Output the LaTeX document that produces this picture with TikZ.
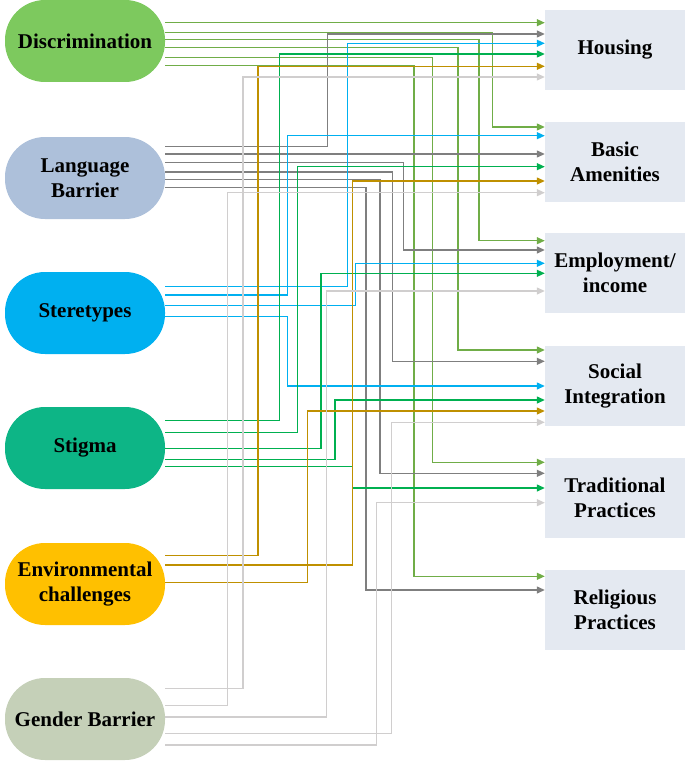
\documentclass[tikz,border=0pt]{standalone}
\usepackage{fontspec}
\setmainfont{Liberation Serif}
\usetikzlibrary{arrows.meta}
\definecolor{discC}{HTML}{70AD47}
\definecolor{langC}{HTML}{7F7F7F}
\definecolor{sterC}{HTML}{00B0F0}
\definecolor{stigC}{HTML}{00B050}
\definecolor{envC}{HTML}{BF9000}
\definecolor{gendC}{HTML}{D0CECE}
\definecolor{boxC}{HTML}{E4E9F1}
\begin{document}
\begin{tikzpicture}[x=1pt,y=-1pt,
    cause/.style={rectangle,rounded corners=40pt,minimum width=160pt,minimum height=82pt,
      align=center,font=\fontsize{21}{25}\selectfont\bfseries,inner sep=0pt},
    effect/.style={rectangle,fill=boxC,minimum width=140pt,minimum height=80pt,
      align=center,font=\fontsize{21}{25}\selectfont\bfseries,inner sep=0pt},
    link/.style={line width=1.3pt,-{Triangle[length=8pt,width=7pt]}}]
  \useasboundingbox (0,0) rectangle (685,765);

  % causes
  \node[cause,fill={rgb,255:red,125;green,201;blue,94}] (disc) at (85,41) {Discrimination};
  \node[cause,fill={rgb,255:red,173;green,192;blue,218}] (lang) at (85,178) {Language\\Barrier};
  \node[cause,fill=sterC] (ster) at (85,313) {Steretypes};
  \node[cause,fill={rgb,255:red,13;green,181;blue,134}] (stig) at (85,448) {Stigma};
  \node[cause,fill={rgb,255:red,255;green,192;blue,0}] (env) at (85,584) {Environmental\\challenges};
  \node[cause,fill={rgb,255:red,197;green,208;blue,184}] (gend) at (85,719) {Gender Barrier};

  % effects
  \node[effect] (hous) at (615,50) {Housing};
  \node[effect] (amen) at (615,162) {Basic\\Amenities};
  \node[effect] (empl) at (615,273) {Employment/\\income};
  \node[effect] (soci) at (615,386) {Social\\Integration};
  \node[effect] (trad) at (615,498) {Traditional\\Practices};
  \node[effect] (reli) at (615,610) {Religious\\Practices};

  % links
  \foreach \ya/\xv/\dst/\yb in {22.7/300/hous/22.7, 32.3/492.7/amen/127, 39.3/479/empl/240.7,
      47.7/458/soci/350, 57.3/432.7/trad/462.3, 65.3/414/reli/576.3}
    \draw[link,discC] (disc.east |- 0,\ya) -- (\xv,\ya) |- (\dst.west |- 0,\yb);
  \foreach \ya/\xv/\dst/\yb in {146.7/327.7/hous/34, 154/300/amen/154, 162.7/403.3/empl/250,
      172/392.7/soci/361.3, 179.3/380/trad/473.3, 187.3/366/reli/590}
    \draw[link,langC] (lang.east |- 0,\ya) -- (\xv,\ya) |- (\dst.west |- 0,\yb);
  \foreach \ya/\xv/\dst/\yb in {286.7/347.7/hous/43.3, 295/287.7/amen/135.7,
      305.3/355.7/empl/263.3, 316.7/287.7/soci/386}
    \draw[link,sterC] (ster.east |- 0,\ya) -- (\xv,\ya) |- (\dst.west |- 0,\yb);
  \foreach \ya/\xv/\dst/\yb in {420.7/279.3/hous/54, 432.7/297.7/amen/166.7,
      448.3/321/empl/273.3, 459.3/335/soci/400, 466.5/352.7/trad/488}
    \draw[link,stigC] (stig.east |- 0,\ya) -- (\xv,\ya) |- (\dst.west |- 0,\yb);
  \foreach \ya/\xv/\dst/\yb in {555.7/258/hous/66.3, 565/352.7/amen/181, 582.7/307.7/soci/411}
    \draw[link,envC] (env.east |- 0,\ya) -- (\xv,\ya) |- (\dst.west |- 0,\yb);
  \foreach \ya/\xv/\dst/\yb in {688.7/243/hous/77, 705.7/227.7/amen/192.7, 717/326.7/empl/291,
      733.3/391.7/soci/422.3, 745/376.7/trad/502.7}
    \draw[link,gendC] (gend.east |- 0,\ya) -- (\xv,\ya) |- (\dst.west |- 0,\yb);
\end{tikzpicture}
\end{document}
